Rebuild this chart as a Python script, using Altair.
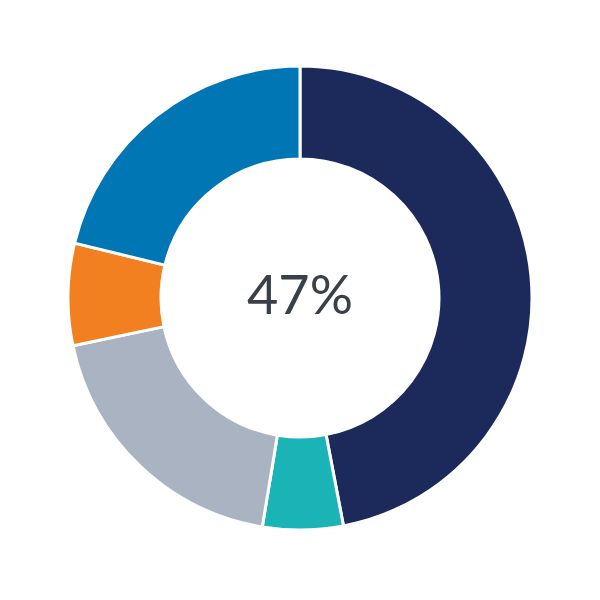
import altair as alt
import pandas as pd

segments = ["Navy", "Teal", "Gray", "Orange", "Blue"]
shares = [47.0, 5.6, 19.1, 7.1, 21.2]
colors = ["#1b2a5b", "#1ab4b6", "#a9b3c2", "#f38020", "#0076b5"]

df = pd.DataFrame({"segment": segments, "share": shares, "order": range(len(segments))})

donut = alt.Chart(df).mark_arc(
    innerRadius=139, outerRadius=232, stroke="white", strokeWidth=3
).encode(
    theta=alt.Theta("share:Q", stack=True),
    order=alt.Order("order:Q"),
    color=alt.Color("segment:N", scale=alt.Scale(domain=segments, range=colors), legend=None),
)

label = alt.Chart(pd.DataFrame({"txt": ["47%"]})).mark_text(
    font="Lato", fontSize=54, color="#3a4047", align="center", baseline="middle"
).encode(text="txt:N")

chart = alt.layer(donut, label).properties(
    width=584, height=580, padding=0
).configure_view(stroke=None)

chart.save("out.html", embed_options={"renderer": "svg", "actions": False})
